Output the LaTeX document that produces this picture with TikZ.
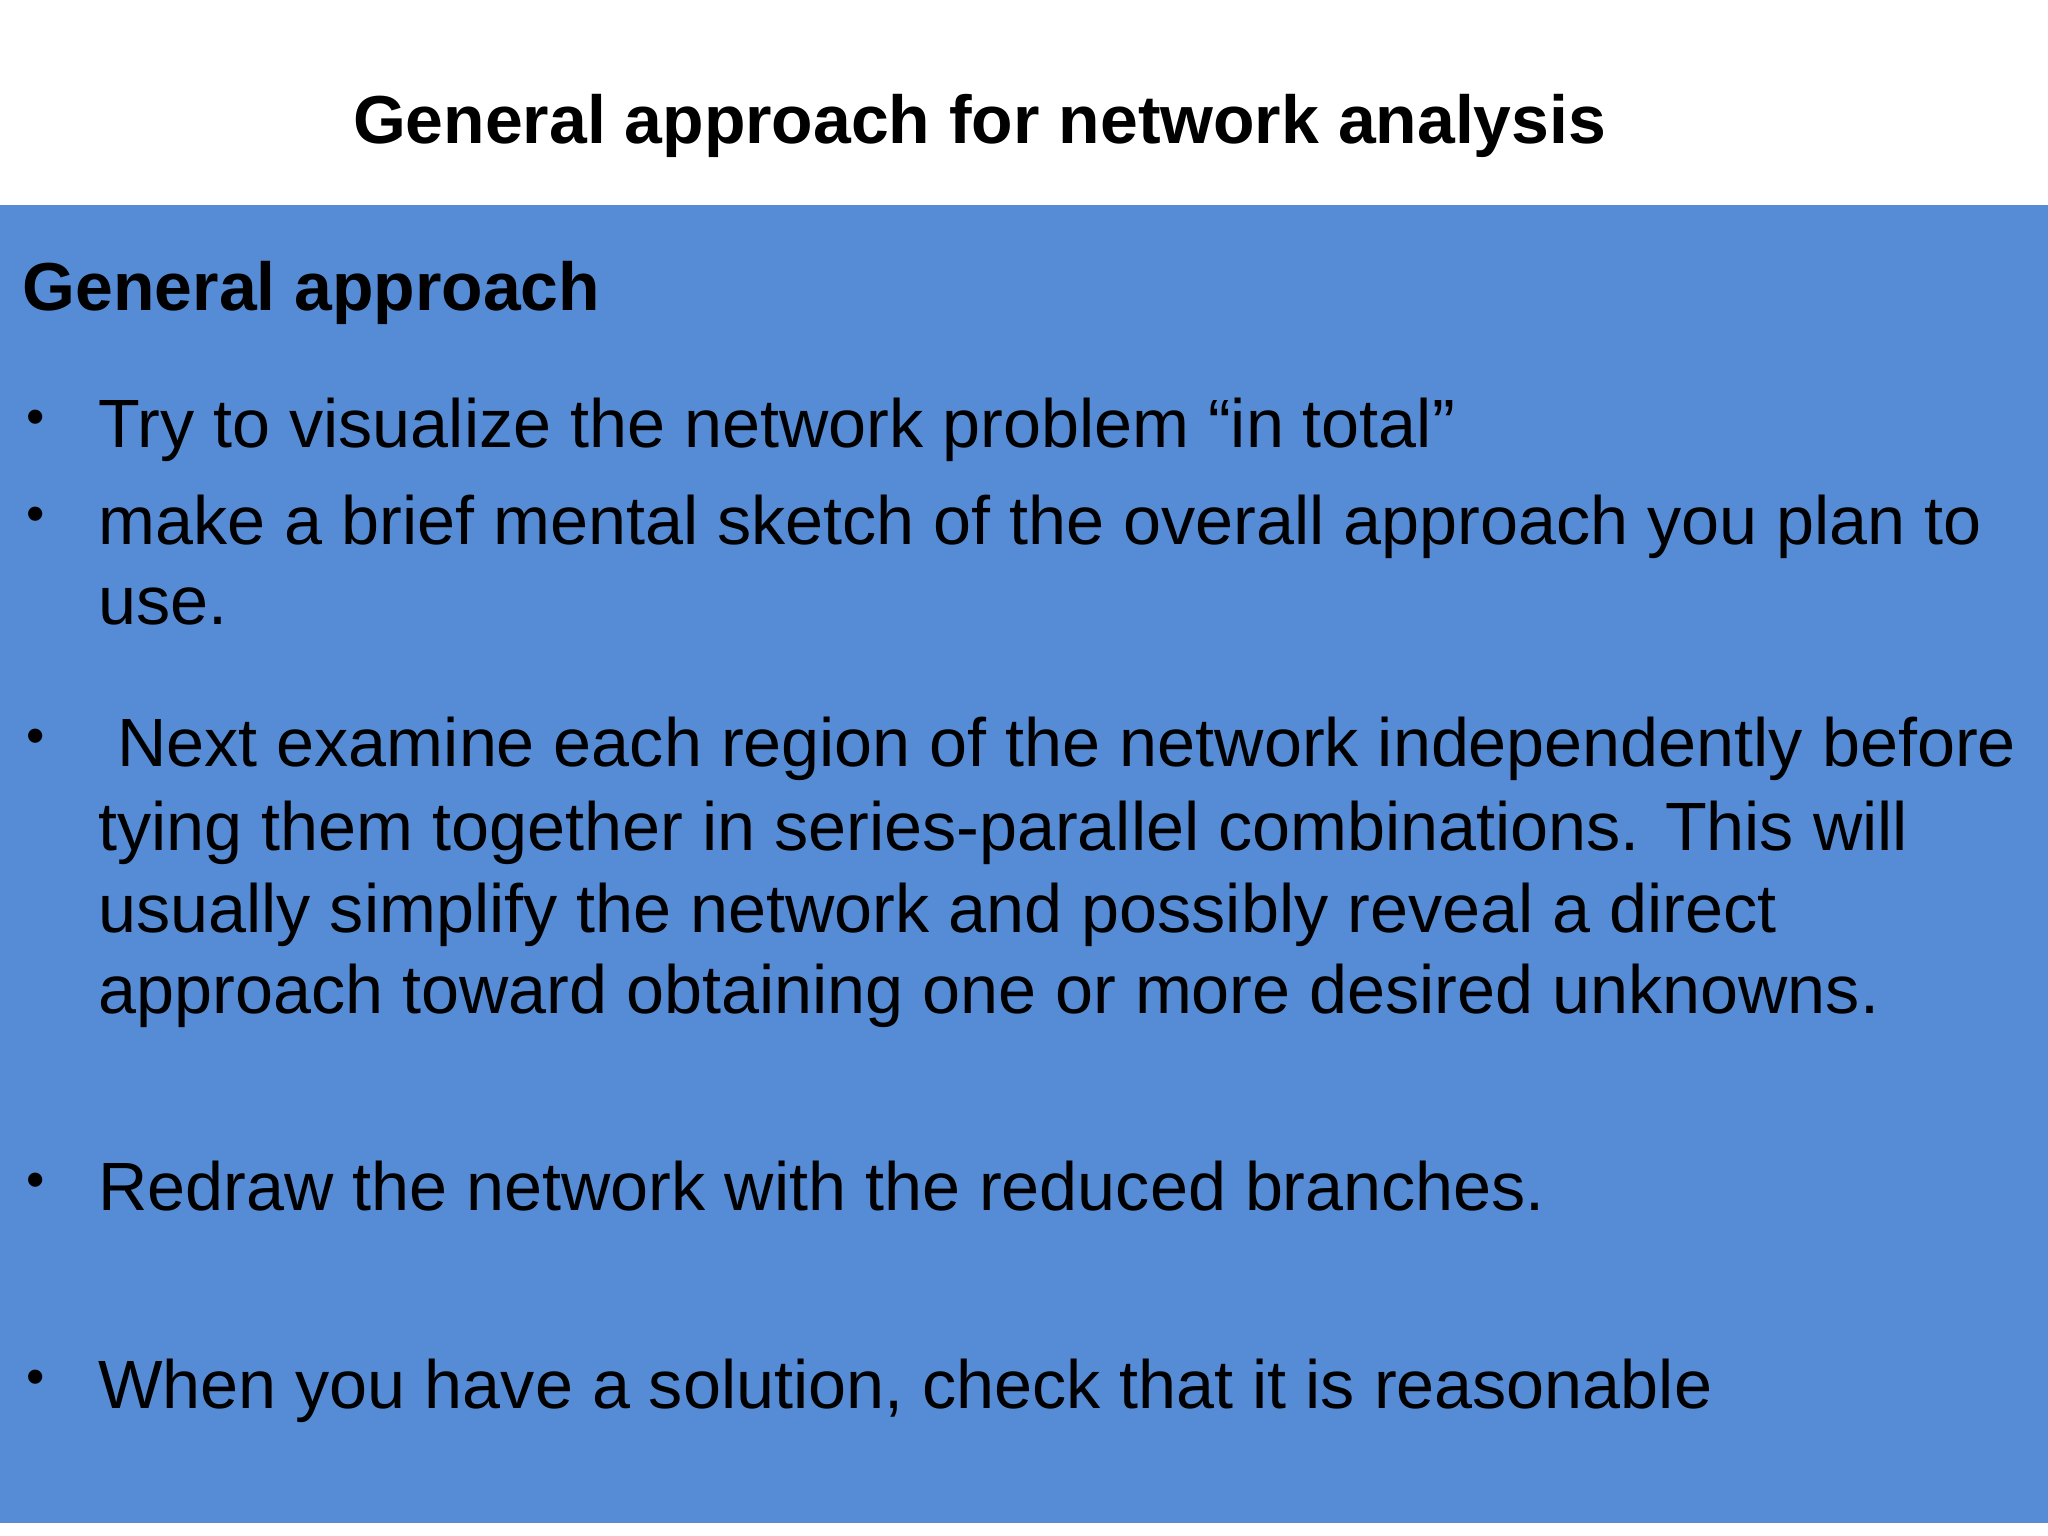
\documentclass[tikz,border=0pt]{standalone}
\usepackage{fontspec}
\setmainfont{Liberation Sans}
\definecolor{slideblue}{RGB}{86,140,214}
\begin{document}
\begin{tikzpicture}[x=0.5pt,y=-0.5pt,
  body/.style={anchor=base west,inner sep=0pt,font=\fontsize{26.15}{30}\selectfont},
  bul/.style={anchor=base west,inner sep=0pt,font=\fontsize{20}{24}\selectfont},
  ttl/.style={anchor=base,inner sep=0pt,font=\fontsize{26}{30}\selectfont\bfseries},
  hd/.style={anchor=base west,inner sep=0pt,font=\fontsize{26}{30}\selectfont\bfseries}]
\useasboundingbox (0,0) rectangle (1568,1176);
\fill[white] (0,0) rectangle (1568,1176);
\fill[slideblue] (0,157) rectangle (1568,1166);
\node[ttl] (title) at (750,110) {General approach for network analysis};
\node[hd] (head) at (17,238) {General approach};
\foreach \y in {333,407,577,917,1068} \node[bul] at (20,\y) {•};
\node[body] (l1) at (75,343) {Try to visualize the network problem “in total”};
\node[body] (l2) at (75,417) {make a brief mental sketch of the overall approach you plan to};
\node[body] (l3) at (75,478) {use.};
\node[body] (l4) at (75,587) {\ Next examine each region of the network independently before};
\node[body] (l5) at (75,651) {tying them together in series-parallel combinations. This will};
\node[body] (l6) at (75,714) {usually simplify the network and possibly reveal a direct};
\node[body] (l7) at (75,776) {approach toward obtaining one or more desired unknowns.};
\node[body] (l8) at (75,927) {Redraw the network with the reduced branches.};
\node[body] (l9) at (75,1078) {When you have a solution, check that it is reasonable};
\end{tikzpicture}
\end{document}
